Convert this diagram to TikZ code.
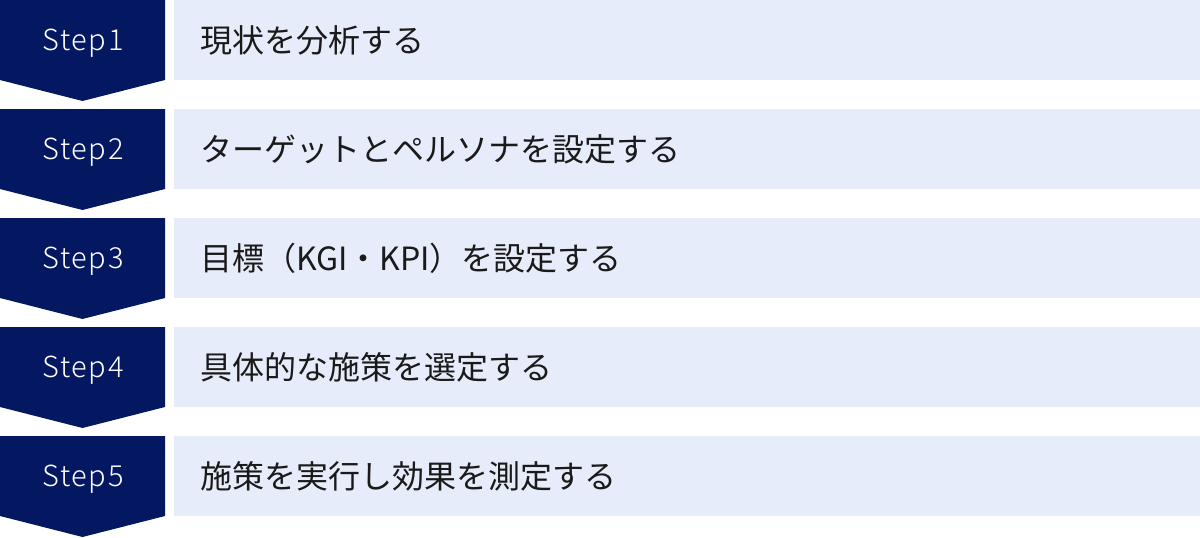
\documentclass[tikz,border=0pt]{standalone}
\usepackage{fontspec}
\setmainfont{Noto Sans CJK JP}
\newfontfamily\stepfont[LetterSpace=6]{Noto Sans CJK JP Light}
\definecolor{navy}{HTML}{031861}
\definecolor{pale}{HTML}{E6ECF9}
\definecolor{ink}{HTML}{1A1A1A}
\begin{document}
\begin{tikzpicture}[x=1pt, y=-1pt,
    steplabel/.style={anchor=base, text=white, inner sep=0pt, font=\stepfont\fontsize{29}{29}\selectfont},
    tasklabel/.style={anchor=west, text=ink, inner sep=0pt, font=\fontsize{32}{32}\selectfont}]
        \useasboundingbox (0, 0) rectangle (1200, 538);
        \fill [navy] (0, 0) -- (165, 0) -- (165, 80) -- (82.5, 101) -- (0, 80) -- cycle;
        \fill [navy] (0, 109) -- (165, 109) -- (165, 189) -- (82.5, 210) -- (0, 189) -- cycle;
        \fill [navy] (0, 218) -- (165, 218) -- (165, 298) -- (82.5, 319) -- (0, 298) -- cycle;
        \fill [navy] (0, 327) -- (165, 327) -- (165, 407) -- (82.5, 428) -- (0, 407) -- cycle;
        \fill [navy] (0, 436) -- (165, 436) -- (165, 516) -- (82.5, 537) -- (0, 516) -- cycle;
        \fill [pale] (174, 0) rectangle (1200, 80);
        \fill [pale] (174, 109) rectangle (1200, 189);
        \fill [pale] (174, 218) rectangle (1200, 298);
        \fill [pale] (174, 327) rectangle (1200, 407);
        \fill [pale] (174, 436) rectangle (1200, 516);
        \node [steplabel] (step1) at (83, 50.5) {Step1};
        \node [steplabel] (step2) at (83, 159.5) {Step2};
        \node [steplabel] (step3) at (83, 268.5) {Step3};
        \node [steplabel] (step4) at (83, 377.5) {Step4};
        \node [steplabel] (step5) at (83, 486.5) {Step5};
        \node [tasklabel] (task1) at (200, 40) {現状を分析する};
        \node [tasklabel] (task2) at (200, 149) {ターゲットとペルソナを設定する};
        \node [tasklabel] (task3) at (200, 258) {目標（KGI・KPI）を設定する};
        \node [tasklabel] (task4) at (200, 367) {具体的な施策を選定する};
        \node [tasklabel] (task5) at (200, 476) {施策を実行し効果を測定する};
      \end{tikzpicture}
\end{document}
